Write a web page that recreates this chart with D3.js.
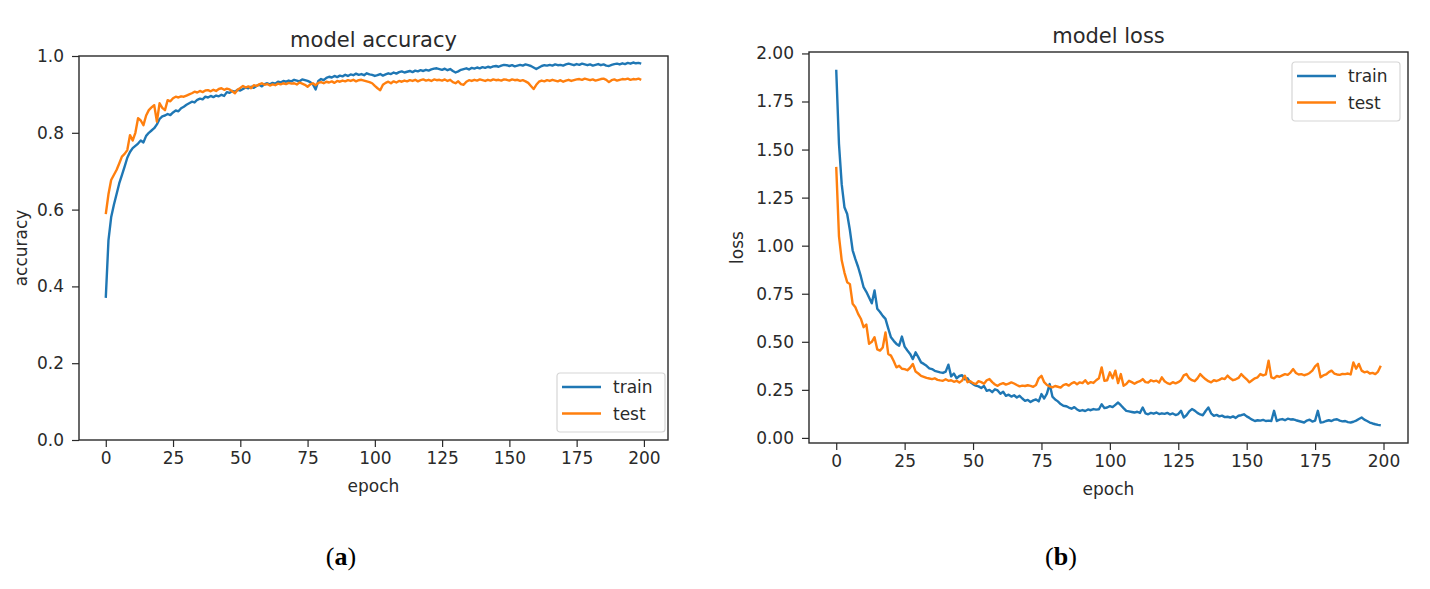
<!DOCTYPE html>
<html>
<head>
  <meta charset="utf-8">
  <title>model accuracy / model loss</title>
  <script src="https://cdn.jsdelivr.net/npm/d3@7"></script>
  <style>
    body { margin: 0; background: #fff; }
    svg { display: block; }
    .tick text { font-family: "DejaVu Sans", sans-serif; font-size: 17px; fill: #2a2a2a; }
    .tick line { stroke: #2a2a2a; stroke-width: 1.2px; }
    .domain { display: none; }
    .frame { fill: none; stroke: #2a2a2a; stroke-width: 1.4px; }
    .title { font-family: "DejaVu Sans", sans-serif; font-size: 21px; fill: #2a2a2a; text-anchor: middle; }
    .label { font-family: "DejaVu Sans", sans-serif; font-size: 17px; fill: #2a2a2a; text-anchor: middle; }
    .legend text { font-family: "DejaVu Sans", sans-serif; font-size: 17px; fill: #2a2a2a; }
    .caption { font-family: "Liberation Serif", serif; font-size: 26px; fill: #000; text-anchor: middle; }
  </style>
</head>
<body>
<script>
  // epochs 0..199
  var epochs = d3.range(0, 200);
  var xTicks = [0, 25, 50, 75, 100, 125, 150, 175, 200];
  var accTicks = [0.0, 0.2, 0.4, 0.6, 0.8, 1.0];
  var lossTicks = [0.00, 0.25, 0.50, 0.75, 1.00, 1.25, 1.50, 1.75, 2.00];
  var seriesNames = ['train', 'test'];
  var seriesColors = ['#1f77b4', '#ff7f0e'];

  var accTrain = [
    0.370, 0.520, 0.580, 0.612, 0.640, 0.668, 0.690, 0.712, 0.735, 0.750,
    0.760, 0.766, 0.772, 0.780, 0.775, 0.792, 0.800, 0.806, 0.812, 0.822,
    0.836, 0.843, 0.845, 0.849, 0.846, 0.853, 0.858, 0.856, 0.864, 0.868,
    0.873, 0.877, 0.881, 0.879, 0.886, 0.889, 0.887, 0.894, 0.892, 0.896,
    0.893, 0.897, 0.895, 0.899, 0.896, 0.906, 0.904, 0.909, 0.907, 0.912,
    0.910, 0.914, 0.918, 0.916, 0.920, 0.917, 0.922, 0.925, 0.921, 0.927,
    0.929, 0.926, 0.930, 0.928, 0.933, 0.931, 0.935, 0.933, 0.936, 0.934,
    0.938, 0.936, 0.934, 0.939, 0.937, 0.935, 0.932, 0.926, 0.913, 0.935,
    0.940, 0.937, 0.943, 0.946, 0.944, 0.948, 0.945, 0.949, 0.947, 0.951,
    0.948, 0.952, 0.950, 0.954, 0.951, 0.953, 0.950, 0.955, 0.952, 0.951,
    0.948, 0.950, 0.953, 0.949, 0.952, 0.955, 0.953, 0.957, 0.954, 0.958,
    0.960, 0.957, 0.959, 0.961, 0.958, 0.962, 0.960, 0.963, 0.961, 0.964,
    0.962, 0.965, 0.967, 0.968, 0.966, 0.964, 0.967, 0.963, 0.966, 0.961,
    0.957, 0.960, 0.964, 0.966, 0.968, 0.965, 0.969, 0.967, 0.970, 0.968,
    0.971, 0.969, 0.972, 0.970, 0.973, 0.974, 0.972, 0.975, 0.977, 0.976,
    0.974, 0.976, 0.973, 0.975, 0.977, 0.975, 0.978, 0.976, 0.974, 0.970,
    0.966, 0.970, 0.974, 0.976, 0.975, 0.977, 0.975, 0.978, 0.976, 0.977,
    0.975, 0.978, 0.980, 0.978, 0.976, 0.979, 0.977, 0.980, 0.978, 0.976,
    0.978, 0.975, 0.977, 0.979, 0.976, 0.978, 0.975, 0.974, 0.977, 0.979,
    0.980, 0.978, 0.981, 0.979, 0.982, 0.980, 0.983, 0.981, 0.982, 0.980
  ];
  var accTest = [
    0.588, 0.640, 0.677, 0.690, 0.703, 0.720, 0.738, 0.745, 0.755, 0.794,
    0.780, 0.800, 0.838, 0.832, 0.820, 0.845, 0.859, 0.866, 0.872, 0.829,
    0.877, 0.865, 0.859, 0.885, 0.882, 0.890, 0.894, 0.892, 0.895, 0.894,
    0.897, 0.900, 0.903, 0.907, 0.905, 0.909, 0.906, 0.910, 0.911, 0.908,
    0.912, 0.909, 0.914, 0.916, 0.912, 0.915, 0.913, 0.908, 0.903, 0.912,
    0.917, 0.922, 0.918, 0.921, 0.916, 0.924, 0.922, 0.926, 0.929, 0.925,
    0.927, 0.923, 0.926, 0.924, 0.928, 0.926, 0.929, 0.927, 0.930, 0.928,
    0.929, 0.926, 0.931, 0.928, 0.925, 0.920, 0.926, 0.929, 0.924, 0.930,
    0.932, 0.929, 0.933, 0.931, 0.934, 0.930, 0.935, 0.933, 0.936, 0.934,
    0.937, 0.935, 0.938, 0.934, 0.937, 0.938, 0.936, 0.934, 0.932, 0.929,
    0.922, 0.916, 0.911, 0.925, 0.930, 0.933, 0.929, 0.934, 0.931, 0.935,
    0.933, 0.936, 0.934, 0.937, 0.935, 0.938, 0.934, 0.937, 0.939, 0.936,
    0.938, 0.935, 0.939, 0.937, 0.938, 0.936, 0.939, 0.935, 0.938, 0.932,
    0.929, 0.934, 0.927, 0.925, 0.933, 0.937, 0.935, 0.938, 0.936, 0.939,
    0.937, 0.935, 0.938, 0.936, 0.939, 0.937, 0.938, 0.936, 0.939, 0.938,
    0.936, 0.939, 0.937, 0.938, 0.935, 0.937, 0.934, 0.930, 0.922, 0.914,
    0.925, 0.933, 0.936, 0.934, 0.937, 0.935, 0.938, 0.936, 0.934, 0.937,
    0.933, 0.936, 0.938, 0.935, 0.937, 0.939, 0.940, 0.938, 0.941, 0.939,
    0.937, 0.939, 0.936, 0.938, 0.940, 0.941, 0.938, 0.932, 0.937, 0.939,
    0.936, 0.938, 0.940, 0.939, 0.941, 0.938, 0.940, 0.939, 0.941, 0.938
  ];
  var lossTrain = [
    1.915, 1.530, 1.320, 1.200, 1.165, 1.080, 0.976, 0.930, 0.889, 0.840,
    0.784, 0.760, 0.730, 0.700, 0.767, 0.672, 0.655, 0.635, 0.619, 0.570,
    0.523, 0.505, 0.489, 0.480, 0.527, 0.475, 0.455, 0.437, 0.410, 0.445,
    0.420, 0.393, 0.385, 0.375, 0.362, 0.358, 0.349, 0.345, 0.341, 0.338,
    0.345, 0.381, 0.320, 0.335, 0.310, 0.322, 0.326, 0.305, 0.310, 0.289,
    0.280, 0.272, 0.268, 0.260, 0.270, 0.245, 0.250, 0.238, 0.253, 0.247,
    0.230, 0.240, 0.219, 0.225, 0.215, 0.222, 0.210, 0.219, 0.205, 0.193,
    0.198, 0.187, 0.195, 0.200, 0.190, 0.228, 0.205, 0.230, 0.280, 0.215,
    0.200, 0.190, 0.176, 0.167, 0.165, 0.158, 0.152, 0.160, 0.148, 0.141,
    0.145, 0.140, 0.148, 0.144, 0.150, 0.147, 0.149, 0.175, 0.155, 0.158,
    0.165, 0.160, 0.172, 0.184, 0.170, 0.155, 0.141, 0.138, 0.135, 0.132,
    0.136, 0.130, 0.158, 0.128, 0.123, 0.130, 0.126, 0.132, 0.124, 0.128,
    0.125, 0.130, 0.122, 0.127, 0.119, 0.124, 0.141, 0.106, 0.118, 0.138,
    0.150, 0.142, 0.130, 0.122, 0.118, 0.140, 0.158, 0.128, 0.115, 0.120,
    0.112, 0.116, 0.108, 0.110, 0.106, 0.112, 0.104, 0.115, 0.118, 0.123,
    0.112, 0.104, 0.095, 0.088, 0.092, 0.090, 0.094, 0.088, 0.090, 0.088,
    0.141, 0.088, 0.095, 0.098, 0.092, 0.100, 0.096, 0.097, 0.092, 0.088,
    0.084, 0.080, 0.090, 0.095, 0.085, 0.090, 0.141, 0.080, 0.082, 0.088,
    0.092, 0.088, 0.095, 0.097, 0.090, 0.086, 0.088, 0.082, 0.080, 0.084,
    0.090, 0.098, 0.106, 0.095, 0.088, 0.080, 0.075, 0.071, 0.068, 0.066
  ];
  var lossTest = [
    1.410, 1.050, 0.924, 0.860, 0.810, 0.800, 0.698, 0.680, 0.645, 0.620,
    0.576, 0.590, 0.489, 0.500, 0.524, 0.460, 0.454, 0.470, 0.549, 0.437,
    0.428, 0.400, 0.367, 0.375, 0.360, 0.358, 0.352, 0.365, 0.385, 0.345,
    0.335, 0.323, 0.318, 0.312, 0.309, 0.306, 0.310, 0.302, 0.299, 0.297,
    0.305, 0.297, 0.300, 0.292, 0.297, 0.288, 0.298, 0.323, 0.290, 0.295,
    0.285, 0.280, 0.295, 0.290, 0.282, 0.300, 0.306, 0.290, 0.278, 0.271,
    0.280, 0.285, 0.277, 0.282, 0.289, 0.283, 0.275, 0.268, 0.272, 0.270,
    0.274, 0.271, 0.266, 0.275, 0.310, 0.323, 0.290, 0.275, 0.268, 0.263,
    0.270, 0.266, 0.262, 0.275, 0.280, 0.272, 0.284, 0.290, 0.279, 0.289,
    0.285, 0.300, 0.282, 0.290, 0.286, 0.300, 0.310, 0.367, 0.297, 0.300,
    0.341, 0.310, 0.350, 0.285, 0.332, 0.271, 0.280, 0.297, 0.290, 0.282,
    0.290, 0.295, 0.306, 0.290, 0.288, 0.300, 0.294, 0.298, 0.288, 0.315,
    0.295, 0.285, 0.280, 0.290, 0.284, 0.290, 0.300, 0.325, 0.332, 0.310,
    0.300, 0.295, 0.310, 0.332, 0.318, 0.305, 0.295, 0.289, 0.300, 0.296,
    0.302, 0.310, 0.306, 0.324, 0.310, 0.300, 0.305, 0.312, 0.332, 0.318,
    0.305, 0.289, 0.300, 0.310, 0.315, 0.332, 0.325, 0.330, 0.402, 0.315,
    0.310, 0.322, 0.318, 0.325, 0.332, 0.328, 0.340, 0.358, 0.338, 0.330,
    0.332, 0.326, 0.330, 0.338, 0.350, 0.372, 0.385, 0.315, 0.325, 0.330,
    0.342, 0.350, 0.335, 0.330, 0.328, 0.333, 0.332, 0.335, 0.330, 0.393,
    0.360, 0.385, 0.350, 0.341, 0.345, 0.335, 0.338, 0.332, 0.345, 0.375
  ];

  var svg = d3.select('body').append('svg')
    .attr('width', 1430).attr('height', 589);

  function drawPanel(opt) {
    var x = d3.scaleLinear().domain([-9.95, 208.95]).range([opt.left, opt.right]);
    var y = d3.scaleLinear().domain(opt.yDomain).range([opt.bottom, opt.top]);
    var g = svg.append('g');

    // lines first, clipped to the axes box
    var clipId = 'clip-' + opt.id;
    g.append('clipPath').attr('id', clipId)
      .append('rect')
        .attr('x', opt.left).attr('y', opt.top)
        .attr('width', opt.right - opt.left).attr('height', opt.bottom - opt.top);

    var line = d3.line()
      .x(function (d, i) { return x(epochs[i]); })
      .y(function (d) { return y(d); });

    g.append('g').attr('clip-path', 'url(#' + clipId + ')')
      .selectAll('path')
      .data(opt.series).enter().append('path')
        .attr('d', function (d) { return line(d); })
        .attr('fill', 'none')
        .attr('stroke', function (d, i) { return seriesColors[i]; })
        .attr('stroke-width', 2.4)
        .attr('stroke-linejoin', 'round');

    g.append('g')
      .attr('transform', 'translate(0,' + opt.bottom + ')')
      .call(d3.axisBottom(x).tickValues(xTicks).tickSize(7).tickPadding(5).tickFormat(d3.format('d')));

    g.append('g')
      .attr('transform', 'translate(' + opt.left + ',0)')
      .call(d3.axisLeft(y).tickValues(opt.yTicks).tickSize(7).tickPadding(8).tickFormat(d3.format(opt.yFormat)));

    g.append('rect').attr('class', 'frame')
      .attr('x', opt.left).attr('y', opt.top)
      .attr('width', opt.right - opt.left).attr('height', opt.bottom - opt.top);

    var cx = (opt.left + opt.right) / 2;
    g.append('text').attr('class', 'title')
      .attr('x', cx).attr('y', opt.top - 9).text(opt.title);
    g.append('text').attr('class', 'label')
      .attr('x', cx).attr('y', opt.bottom + 52).text('epoch');
    g.append('text').attr('class', 'label')
      .attr('transform', 'translate(' + opt.ylabelX + ',' + ((opt.top + opt.bottom) / 2) + ') rotate(-90)')
      .text(opt.ylabel);

    // legend
    var lg = g.append('g').attr('class', 'legend')
      .attr('transform', 'translate(' + opt.legend[0] + ',' + opt.legend[1] + ')');
    lg.append('rect')
      .attr('width', 108).attr('height', 59).attr('rx', 3)
      .attr('fill', '#fff').attr('fill-opacity', 0.8)
      .attr('stroke', '#d6d6d6').attr('stroke-width', 1.2);
    var item = lg.selectAll('.item').data(seriesNames).enter().append('g')
      .attr('class', 'item')
      .attr('transform', function (d, i) { return 'translate(0,' + (14 + i * 26.5) + ')'; });
    item.append('line')
      .attr('x1', 5).attr('x2', 44)
      .attr('stroke', function (d, i) { return seriesColors[i]; })
      .attr('stroke-width', 2.4);
    item.append('text')
      .attr('x', 56).attr('y', 6).text(function (d) { return d; });

    // caption: plain parentheses, bold letter
    var cap = svg.append('text').attr('class', 'caption')
      .attr('x', opt.captionX).attr('y', 565);
    cap.append('tspan').text('(');
    cap.append('tspan').attr('font-weight', 'bold').text(opt.caption);
    cap.append('tspan').text(')');
  }

  drawPanel({
    id: 'acc', left: 79, right: 668, top: 56, bottom: 440,
    yDomain: [0, 1], yTicks: accTicks, yFormat: '.1f',
    series: [accTrain, accTest],
    title: 'model accuracy', ylabel: 'accuracy', ylabelX: 27,
    legend: [557, 373], caption: 'a', captionX: 341
  });

  drawPanel({
    id: 'loss', left: 809, right: 1408, top: 52, bottom: 443,
    yDomain: [-0.0265, 2.0075], yTicks: lossTicks, yFormat: '.2f',
    series: [lossTrain, lossTest],
    title: 'model loss', ylabel: 'loss', ylabelX: 743,
    legend: [1292, 62], caption: 'b', captionX: 1061
  });
</script>
</body>
</html>
